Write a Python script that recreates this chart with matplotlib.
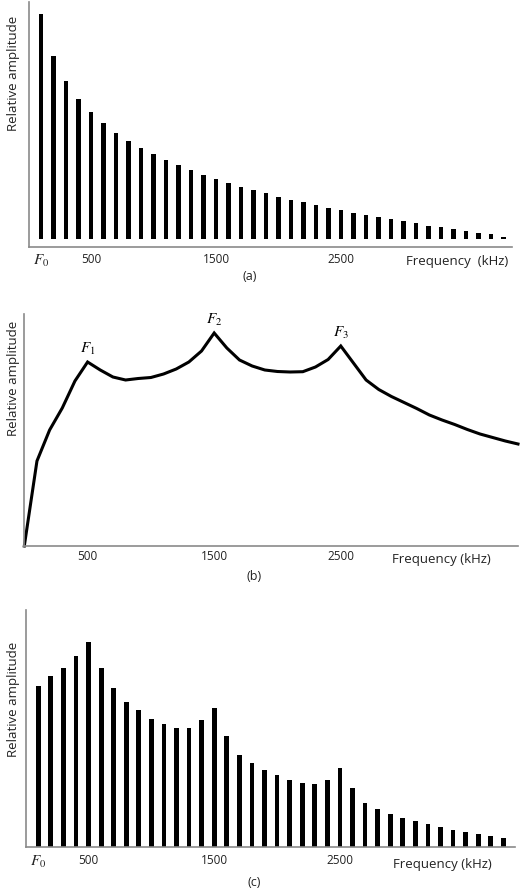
import matplotlib
matplotlib.use('Agg')
import matplotlib.pyplot as plt

plt.rcParams['font.family'] = ['Open Sans', 'DejaVu Sans']
plt.rcParams['mathtext.fontset'] = 'stix'

# harmonic frequencies (Hz)
harmonics = [100, 200, 300, 400, 500, 600, 700, 800, 900, 1000,
             1100, 1200, 1300, 1400, 1500, 1600, 1700, 1800, 1900, 2000,
             2100, 2200, 2300, 2400, 2500, 2600, 2700, 2800, 2900, 3000,
             3100, 3200, 3300, 3400, 3500, 3600, 3700, 3800]

# (a) source spectrum
amp_a = [225, 183, 158, 140, 127, 116, 106, 98, 91, 85,
         79, 74, 69, 64, 60, 56, 52, 49, 46, 42,
         39, 37, 34, 31, 29, 26, 24, 22, 20, 18,
         16, 13, 12, 10, 8, 6, 5, 2]

# (b) vocal tract transfer function
env_freq = [0, 100, 200, 300, 400, 500, 600, 700, 800, 900,
            1000, 1100, 1200, 1300, 1400, 1500, 1600, 1700, 1800, 1900,
            2000, 2100, 2200, 2300, 2400, 2500, 2600, 2700, 2800, 2900,
            3000, 3100, 3200, 3300, 3400, 3500, 3600, 3700, 3800, 3900]
env_amp = [0, 85, 116, 138, 165, 184, 176, 169, 166, 167.5,
           168.5, 172, 177, 184, 195, 213, 198, 186, 180, 176,
           174.5, 174, 174.3, 179, 186.5, 200, 183, 166, 156.5, 149.5,
           143.5, 137.5, 131, 126, 121.5, 116.5, 112, 108.5, 105, 102]
formants = [(500, 184, r'$F_1$'), (1500, 213, r'$F_2$'), (2500, 200, r'$F_3$')]

# (c) output spectrum
amp_c = [161, 171, 179, 191, 205, 179, 159, 145, 137, 128,
         123, 119, 119, 127, 139, 111, 92, 84, 77, 72,
         67, 64, 63, 67, 79, 59, 44, 38, 33, 29,
         26, 23, 20, 17, 15, 13, 11, 9]

tick_f0 = [100, 500, 1500, 2500]
tick_f0_labels = [r'$F_0$', '500', '1500', '2500']
tick_b = [500, 1500, 2500]
tick_b_labels = ['500', '1500', '2500']

W, H = 520, 888
fig = plt.figure(figsize=(W / 100, H / 100), dpi=100)


def px_axes(left, top, right, bottom):
    return fig.add_axes([left / W, 1 - bottom / H, (right - left) / W, (bottom - top) / H])


def style(ax, ticks, labels, pad):
    for s in ['top', 'right']:
        ax.spines[s].set_visible(False)
    for s in ['left', 'bottom']:
        ax.spines[s].set_color('#8a8a8a')
        ax.spines[s].set_linewidth(1.2)
    ax.set_yticks([])
    ax.set_xticks(ticks)
    ax.set_xticklabels(labels, fontsize=8.5, color='#222222')
    ax.tick_params(axis='x', length=0, pad=pad)
    for lbl in ax.get_xticklabels():
        if 'F' in lbl.get_text():
            lbl.set_fontsize(11)


# panel (a)
ax1 = px_axes(28.5, 2, 512, 247)
ax1.bar(harmonics, amp_a, width=38, color='black')
ax1.set_xlim(0, 3868)
ax1.set_ylim(-8, 237)
style(ax1, tick_f0, tick_f0_labels, 4)

# panel (b)
ax2 = px_axes(24.3, 314, 518, 546)
ax2.plot(env_freq, env_amp, color='black', lw=2.2, solid_joinstyle='miter', clip_on=False)
ax2.set_xlim(0, 3900)
ax2.set_ylim(0, 232)
style(ax2, tick_b, tick_b_labels, 3)
for f, a, name in formants:
    ax2.annotate(name, (f, a), xytext=(0, 13), textcoords='offset pixels',
                 ha='center', va='center', fontsize=11)

# panel (c)
ax3 = px_axes(25.7, 610, 515, 847)
ax3.bar(harmonics, amp_c, width=38, color='black')
ax3.set_xlim(0, 3893)
ax3.set_ylim(0, 237)
style(ax3, tick_f0, tick_f0_labels, 5)

# axis captions
for yc in [73, 378, 699]:
    fig.text(13.5 / W, 1 - yc / H, 'Relative amplitude', rotation=90,
             ha='center', va='center', fontsize=9.5, color='#222222')
for x0, yc, txt in [(406, 261, 'Frequency  (kHz)'), (392, 560, 'Frequency (kHz)'),
                    (393, 864, 'Frequency (kHz)')]:
    fig.text(x0 / W, 1 - yc / H, txt, ha='left', va='center', fontsize=9.5, color='#222222')
for xc, yc, txt in [(250, 276, '(a)'), (254, 577, '(b)'), (254, 882, '(c)')]:
    fig.text(xc / W, 1 - yc / H, txt, ha='center', va='center', fontsize=9, color='#222222')

fig.savefig('out.png', dpi=100)
